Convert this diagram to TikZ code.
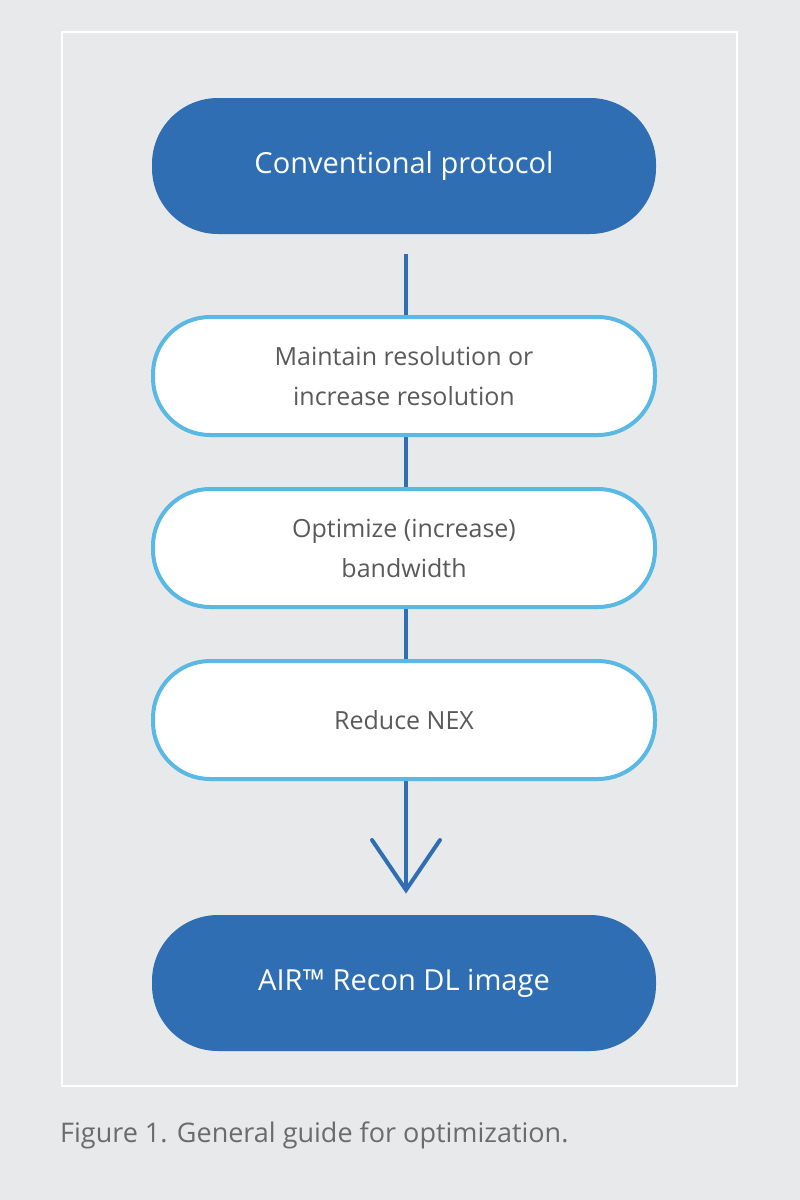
\documentclass[tikz,border=0pt]{standalone}
\usepackage{fontspec}
\setmainfont{Open Sans}
\definecolor{bg}{HTML}{E8E9EB}
\definecolor{dblue}{HTML}{2F6EB3}
\definecolor{lblue}{HTML}{5AB8E4}
\definecolor{tgray}{HTML}{5A5A5A}
\begin{document}
\begin{tikzpicture}[x=1pt,y=-1pt,
  dark/.style={draw=none,fill=dblue,text=white,minimum width=504pt,minimum height=136pt,rounded corners=66pt,font=\fontsize{29}{34}\selectfont},
  light/.style={draw=lblue,line width=4pt,fill=white,text=tgray,minimum width=502pt,minimum height=118pt,rounded corners=57pt,align=center,font=\fontsize{25}{40}\selectfont},
  conn/.style={draw=dblue,line width=4pt}]
\fill[bg] (0,0) rectangle (800,1200);
\draw[white,line width=2pt] (62,32) rectangle (737,1086);
\coordinate (s) at (406,254);
\coordinate (tip) at (406,890);
\draw[conn] (s) -- (tip);
\node[dark] (a) at (404,166) {Conventional protocol};
\node[light] (b) at (404,376) {Maintain resolution or\\increase resolution};
\node[light] (c) at (404,548) {Optimize (increase)\\bandwidth};
\node[light] (d) at (404,720) {Reduce NEX};
\draw[conn,line cap=round,line join=miter] (372,840) -- (tip) -- (440,840);
\node[dark] (e) at (404,983) {AIR™ Recon DL image};
\node[anchor=west,text=tgray!90,font=\fontsize{27}{32}\selectfont,inner sep=0pt] (cap) at (60,1135) {Figure 1. General guide for optimization.};
\end{tikzpicture}
\end{document}
